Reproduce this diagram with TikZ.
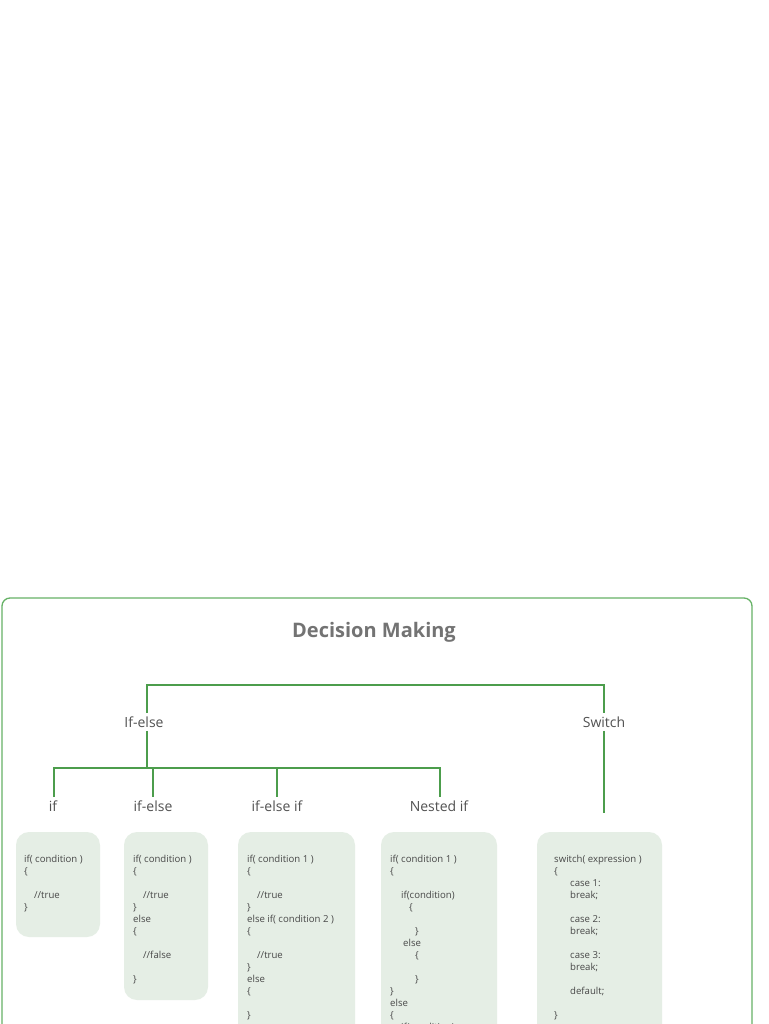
\documentclass[tikz,border=0pt]{standalone}
\usepackage{fontspec}
\setmainfont{Open Sans}
\begin{document}
\begin{tikzpicture}[x=1pt,y=-1pt,
  gl/.style={draw=green!45!black!70!white, line width=1.6pt},
  lbl/.style={text=black!68, font=\fontsize{14}{16}\selectfont},
  cbox/.style={fill=green!35!black!10!white, draw=none, rounded corners=13pt},
  code/.style={anchor=north west, inner sep=0pt, align=left, text=black!72, font=\fontsize{9.6}{12}\selectfont}]
\useasboundingbox (0,0) rectangle (768,1024);
\clip (0,0) rectangle (768,1024);
\fill[white] (0,0) rectangle (768,1024);
\draw[draw=green!50!black!60!white, line width=1.3pt, rounded corners=8pt] (2,598) rectangle (752,1060);
\node[text=black!55, font=\fontsize{20}{22}\selectfont\bfseries] (title) at (374,632) {Decision Making};
\coordinate (t1) at (147,685); \coordinate (t2) at (604,685);
\node[lbl] (ifelse) at (144,722) {If-else};
\node[lbl] (switch) at (604,722) {Switch};
\draw[gl] (t1 |- ifelse.north) -- (t1) -- (t2) -- (t2 |- switch.north);
\coordinate (h1) at (147,768); \coordinate (h0) at (54,768); \coordinate (h4) at (440,768);
\node[lbl] (n1) at (53,806) {if};
\node[lbl] (n2) at (153,806) {if-else};
\node[lbl] (n3) at (277,806) {if-else if};
\node[lbl] (n4) at (439,806) {Nested if};
\draw[gl] (ifelse.south -| h1) -- (h1);
\draw[gl] (h0 |- n1.north) -- (h0) -- (h4) -- (h4 |- n4.north);
\draw[gl] (h1 -| n2) -- (n2.north);
\draw[gl] (h1 -| n3) -- (n3.north);
\coordinate (sw) at (604,813);
\draw[gl] (switch.south) -- (sw);
\fill[cbox] (16,832) rectangle (100,937);
\fill[cbox] (124,832) rectangle (208,1000);
\fill[cbox] (238,832) rectangle (355,1060);
\fill[cbox] (381,832) rectangle (497,1060);
\fill[cbox] (537,832) rectangle (662,1060);
\node[code] (c1) at (24,855) {if( condition )\\\{\\\mbox{}\\\hspace*{10pt}//true\\\}};
\node[code] (c2) at (133,855) {if( condition )\\\{\\\mbox{}\\\hspace*{10pt}//true\\\}\\else\\\{\\\mbox{}\\\hspace*{10pt}//false\\\mbox{}\\\}};
\node[code] (c3) at (247,855) {if( condition 1 )\\\{\\\mbox{}\\\hspace*{10pt}//true\\\}\\else if( condition 2 )\\\{\\\mbox{}\\\hspace*{10pt}//true\\\}\\else\\\{\\\mbox{}\\\}};
\node[code] (c4) at (390,855) {if( condition 1 )\\\{\\\mbox{}\\\hspace*{11pt}if(condition)\\\hspace*{19pt}\{\\\mbox{}\\\hspace*{25pt}\}\\\hspace*{13pt}else\\\hspace*{25pt}\{\\\mbox{}\\\hspace*{25pt}\}\\\}\\else\\\{\\\hspace*{11pt}if(condition)};
\node[code] (c5) at (554,855) {switch( expression )\\\{\\\hspace*{16pt}case 1:\\\hspace*{16pt}break;\\\mbox{}\\\hspace*{16pt}case 2:\\\hspace*{16pt}break;\\\mbox{}\\\hspace*{16pt}case 3:\\\hspace*{16pt}break;\\\mbox{}\\\hspace*{16pt}default;\\\mbox{}\\\}};
\end{tikzpicture}
\end{document}
